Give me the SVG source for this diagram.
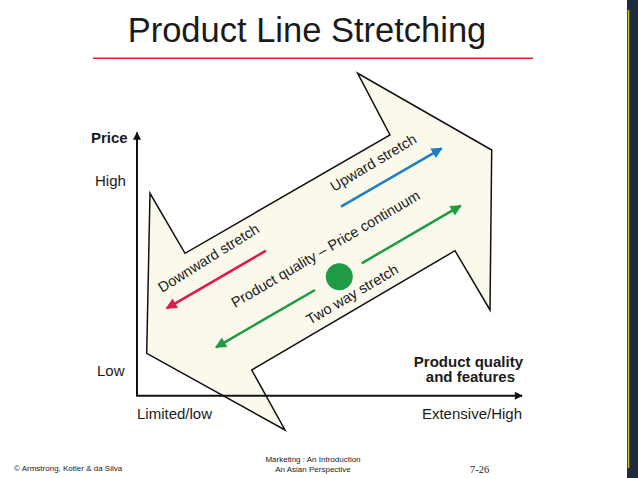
<svg xmlns="http://www.w3.org/2000/svg" width="638" height="478" viewBox="0 0 638 478">
<defs>
<style>
.t{font-family:"Liberation Sans",Arial,sans-serif;fill:#1a1a1a}
.lab{font-size:15px}
.rot{font-size:14.5px}
.b{font-weight:bold}
.ax{stroke:#111;stroke-width:2;fill:none}
</style>
<marker id="axh" viewBox="0 0 10 10" refX="9" refY="5" markerWidth="10" markerHeight="8" orient="auto" markerUnits="userSpaceOnUse"><path d="M0,0 L10,5 L0,10 Z" fill="#111"/></marker>
<marker id="ahB" viewBox="0 0 10 10" refX="9" refY="5" markerWidth="13" markerHeight="11" orient="auto" markerUnits="userSpaceOnUse"><path d="M0,0 L10,5 L0,10 Z" fill="#1f7fc4"/></marker>
<marker id="ahR" viewBox="0 0 10 10" refX="9" refY="5" markerWidth="13" markerHeight="11" orient="auto" markerUnits="userSpaceOnUse"><path d="M0,0 L10,5 L0,10 Z" fill="#e0194f"/></marker>
<marker id="ahG" viewBox="0 0 10 10" refX="9" refY="5" markerWidth="13" markerHeight="11" orient="auto" markerUnits="userSpaceOnUse"><path d="M0,0 L10,5 L0,10 Z" fill="#1f9a45"/></marker>
</defs>
<rect width="638" height="478" fill="#ffffff"/>
<rect x="627" y="0" width="11" height="478" fill="#1c2c3c"/>
<line x1="628.5" y1="10" x2="628.5" y2="468" stroke="#c8c22a" stroke-width="1.5"/>

<g id="title">
<text class="t" x="307" y="42" font-size="34.5" text-anchor="middle">Product Line Stretching</text>
<line x1="93" y1="58.3" x2="533" y2="58.3" stroke="#d42a2a" stroke-width="1.5"/>
</g>

<g id="big-arrow">
<polygon points="357.7,73.3 390,135 185,253.3 150,193.3 146.7,353.3 285,430 251.7,370 455,250.7 490,310 491.7,150" fill="#fbf9ec" stroke="#111" stroke-width="1.5" stroke-linejoin="miter"/>
</g>

<g id="axes">
<line class="ax" x1="137" y1="396" x2="137" y2="132.5" marker-end="url(#axh)"/>
<line class="ax" x1="136" y1="395.7" x2="522" y2="395.7" marker-end="url(#axh)"/>
</g>

<g id="axis-labels">
<text class="t lab b" x="91" y="143">Price</text>
<text class="t lab" x="95" y="186">High</text>
<text class="t lab" x="97" y="376">Low</text>
<text class="t lab" x="137" y="419">Limited/low</text>
<text class="t lab" x="522" y="419" text-anchor="end">Extensive/High</text>
<text class="t lab b" x="523" y="366.5" text-anchor="end">Product quality</text>
<text class="t lab b" x="515" y="382" text-anchor="end">and features</text>
</g>

<g id="connectors">
<line x1="341" y1="206.7" x2="441.7" y2="148.3" stroke="#1f7fc4" stroke-width="2.5" marker-end="url(#ahB)"/>
<line x1="266" y1="250.7" x2="166.7" y2="308.3" stroke="#e0194f" stroke-width="2.5" marker-end="url(#ahR)"/>
<line x1="361.7" y1="263.3" x2="460.7" y2="205.7" stroke="#1f9a45" stroke-width="2.5" marker-end="url(#ahG)"/>
<line x1="315" y1="290" x2="216" y2="347.3" stroke="#1f9a45" stroke-width="2.5" marker-end="url(#ahG)"/>
</g>

<g id="center-dot">
<circle cx="339.3" cy="276.7" r="13.5" fill="#1f9a45"/>
</g>

<g id="stretch-labels">
<text class="t rot" transform="translate(334,192) rotate(-31)">Upward stretch</text>
<text class="t rot" transform="translate(162,293) rotate(-32)">Downward stretch</text>
<text class="t rot" transform="translate(235,308) rotate(-30.5)">Product quality – Price continuum</text>
<text class="t rot" transform="translate(310,325) rotate(-30.5)">Two way stretch</text>
</g>

<g id="footer">
<text class="t" x="14" y="471" font-size="8">© Armstrong, Kotler &amp; da Silva</text>
<text class="t" x="313" y="462" font-size="8" text-anchor="middle">Marketing : An Introduction</text>
<text class="t" x="313" y="472" font-size="8" text-anchor="middle">An Asian Perspective</text>
<text x="470" y="473" font-size="10.5" font-family="'Liberation Serif','Times New Roman',serif" fill="#1a1a1a">7-26</text>
</g>
</svg>
